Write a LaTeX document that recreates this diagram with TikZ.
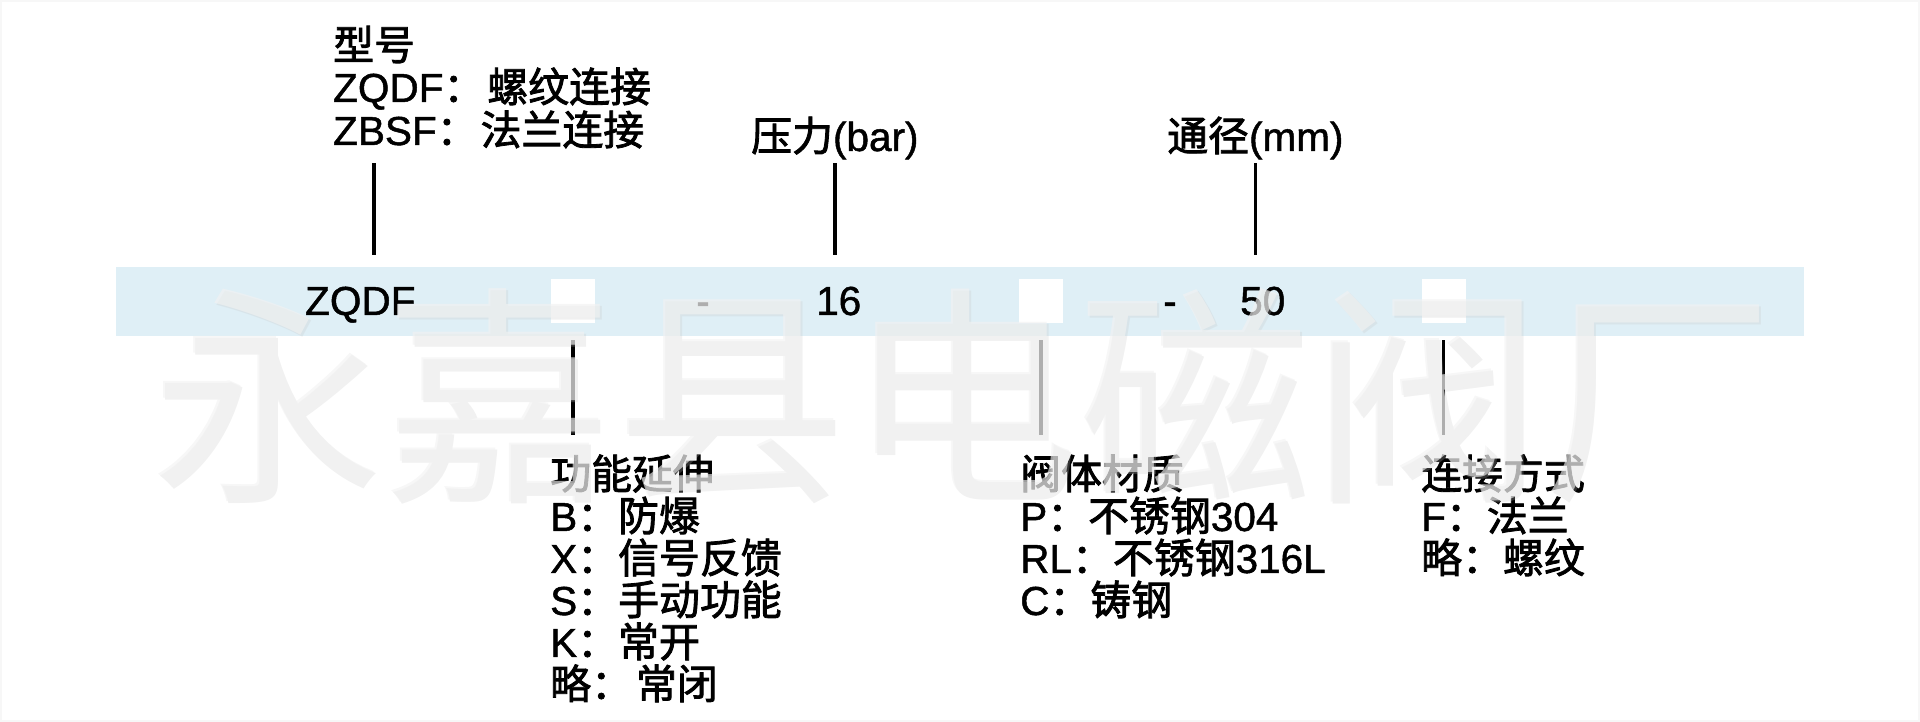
\documentclass[tikz,border=0pt]{standalone}
\usepackage{fontspec}
\setmainfont{Liberation Sans}[FakeBold=1.2]
\newfontfamily\cjk{Noto Sans CJK SC}[Scale=1.01, FakeBold=2]
\newfontfamily\cjkmark{Noto Sans CJK SC}
\usetikzlibrary{positioning,calc}
\definecolor{stripblue}{RGB}{223,239,246}
\newcommand{\zh}[1]{{\cjk #1}}

\begin{document}
\begin{tikzpicture}[x=1pt, y=1pt,
	labeltext/.style={inner sep=0pt, anchor=base west, align=left, font=\fontsize{40.5}{42}\selectfont},
	field/.style={inner sep=0pt, anchor=base west, font=\fontsize{40.5}{42}\selectfont},
	blank/.style={fill=white, minimum width=44pt, minimum height=44pt, inner sep=0pt},
	lead/.style={line width=3.5pt, black},
	wmark/.style={inner sep=0pt, text=gray!10, opacity=0.65, font=\fontsize{232}{232}\selectfont\cjkmark}]
	\useasboundingbox (0,0) rectangle (1920,722);
	\draw[gray!6, line width=2pt] (1,1) rectangle (1919,721);
	% code strip
	\node[fill=stripblue, minimum width=1688pt, minimum height=69pt, inner sep=0pt] (strip) at (960,420.5) {};
	\node[field] (code) at (305,407) {ZQDF};
	\node[blank] (ext) at (573,421) {};
	\node[field] (dashA) at (696,407) {-};
	\node[field] (bar) at (816,407) {16};
	\node[blank] (mat) at (1041,421) {};
	\node[field] (dashB) at (1163,407) {-};
	\node[field] (size) at (1240,407) {50};
	\node[blank] (joint) at (1443.5,421) {};
	% labels above (multi-line nodes sit on their last baseline)
	\node[labeltext] (model) at (333,662) {\zh{型号}};
	\node[labeltext] (modelopts) at ($(model.base west)+(0,-85)$) {ZQDF\zh{：}\hspace{3pt}\zh{螺纹连接}\\ZBSF\zh{：}\hspace{3pt}\zh{法兰连接}};
	\node[labeltext] (press) at (751,571) {\zh{压力}(bar)};
	\node[labeltext] (dia) at (1167,571) {\zh{通径}(mm)};
	\draw[lead] ($(strip.north -| model)+(0,12)$) -- ++(0,92);
	\draw[lead] ($(strip.north -| press)+(0,12)$) -- ++(0,92);
	\draw[lead] ($(strip.north -| dia)+(0,12)$) -- ++(0,92);
	% labels below
	\node[labeltext] (func) at (550,23) {\zh{功能延伸}\\B\zh{：防爆}\\X\zh{：信号反馈}\\S\zh{：手动功能}\\K\zh{：常开}\\\zh{略：}\hspace{4pt}\zh{常闭}};
	\node[labeltext] (body) at (1020,107) {\zh{阀体材质}\\P\zh{：不锈钢}304\\RL\zh{：不锈钢}316L\\C\zh{：铸钢}};
	\node[labeltext] (conn) at (1421,149) {\zh{连接方式}\\F\zh{：法兰}\\\zh{略：螺纹}};
	\draw[lead] ($(ext.south)+(0,-17)$) -- ++(0,-95);
	\draw[lead] ($(mat.south)+(0,-17)$) -- ++(0,-95);
	\draw[lead] ($(joint.south)+(0,-17)$) -- ++(0,-95);
	% watermark
	\node[wmark, text=gray!45, opacity=0.25] (brandshade) at (964.5,324.5) {永嘉县电磁阀厂};
	\node[wmark] (brand) at (962,327) {永嘉县电磁阀厂};
\end{tikzpicture}
\end{document}
